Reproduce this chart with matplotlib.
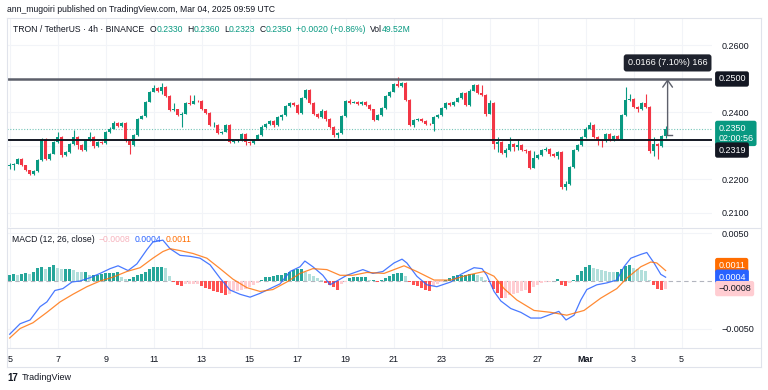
"""
TRON / TetherUS 4h candles with MACD panel, TradingView style snapshot.
"""

import numpy as np
import matplotlib
matplotlib.use("Agg")
import matplotlib.pyplot as plt
from matplotlib.lines import Line2D

plt.rcParams['font.family'] = ['Liberation Sans', 'DejaVu Sans']

# ==============================================================================
#  DATA (read off the snapshot, bar 0 = Feb 05 00:00 UTC, 4h bars)
# ==============================================================================
FIRST_OPEN = 0.2240
CLOSE = [
    0.2244, 0.2247, 0.2262, 0.2242, 0.2227, 0.2217, 0.2225, 0.2259, 0.2320, 0.2262,
    0.2277, 0.2312, 0.2327, 0.2272, 0.2282, 0.2307, 0.2327, 0.2302, 0.2287, 0.2319,
    0.2327, 0.2299, 0.2312, 0.2309, 0.2342, 0.2352, 0.2369, 0.2359, 0.2369, 0.2315,
    0.2302, 0.2332, 0.2382, 0.2389, 0.2432, 0.2462, 0.2472, 0.2465, 0.2477, 0.2449,
    0.2407, 0.2409, 0.2392, 0.2397, 0.2427, 0.2426, 0.2435, 0.2433, 0.2409, 0.2399,
    0.2362, 0.2364, 0.2339, 0.2343, 0.2364, 0.2312, 0.2316, 0.2318, 0.2337, 0.2312,
    0.2309, 0.2319, 0.2332, 0.2357, 0.2365, 0.2375, 0.2362, 0.2387, 0.2392, 0.2419,
    0.2427, 0.2422, 0.2399, 0.2442, 0.2467, 0.2429, 0.2395, 0.2387, 0.2405, 0.2382,
    0.2357, 0.2332, 0.2339, 0.2390, 0.2435, 0.2429, 0.2432, 0.2424, 0.2431, 0.2423,
    0.2409, 0.2379, 0.2392, 0.2412, 0.2449, 0.2462, 0.2485, 0.2479, 0.2487, 0.2437,
    0.2362, 0.2377, 0.2380, 0.2375, 0.2367, 0.2365, 0.2387, 0.2392, 0.2412, 0.2427,
    0.2422, 0.2432, 0.2442, 0.2459, 0.2422, 0.2465, 0.2482, 0.2457, 0.2452, 0.2397,
    0.2427, 0.2307, 0.2312, 0.2279, 0.2287, 0.2307, 0.2297, 0.2302, 0.2287, 0.2285,
    0.2235, 0.2265, 0.2272, 0.2287, 0.2292, 0.2275, 0.2269, 0.2282, 0.2177, 0.2187,
    0.2237, 0.2287, 0.2302, 0.2327, 0.2352, 0.2362, 0.2327, 0.2317, 0.2315, 0.2337,
    0.2319, 0.2329, 0.2322, 0.2392, 0.2437, 0.2441, 0.2417, 0.2409, 0.2429, 0.2415,
    0.2285, 0.2307, 0.2299, 0.2330, 0.2350,
]
HIGH = [
    0.2249, 0.2249, 0.2265, 0.2265, 0.2244, 0.2229, 0.2228, 0.2262, 0.2323, 0.2323,
    0.2280, 0.2315, 0.2342, 0.2330, 0.2285, 0.2310, 0.2347, 0.2329, 0.2305, 0.2322,
    0.2342, 0.2330, 0.2315, 0.2316, 0.2345, 0.2356, 0.2374, 0.2372, 0.2373, 0.2371,
    0.2317, 0.2335, 0.2385, 0.2393, 0.2435, 0.2465, 0.2482, 0.2476, 0.2489, 0.2480,
    0.2452, 0.2427, 0.2411, 0.2400, 0.2430, 0.2452, 0.2452, 0.2438, 0.2436, 0.2411,
    0.2401, 0.2372, 0.2366, 0.2346, 0.2367, 0.2366, 0.2319, 0.2321, 0.2340, 0.2339,
    0.2315, 0.2321, 0.2335, 0.2362, 0.2369, 0.2378, 0.2378, 0.2390, 0.2395, 0.2422,
    0.2430, 0.2432, 0.2425, 0.2445, 0.2470, 0.2470, 0.2431, 0.2398, 0.2409, 0.2408,
    0.2385, 0.2360, 0.2342, 0.2393, 0.2438, 0.2440, 0.2435, 0.2435, 0.2434, 0.2434,
    0.2426, 0.2411, 0.2395, 0.2415, 0.2452, 0.2465, 0.2488, 0.2507, 0.2491, 0.2490,
    0.2440, 0.2380, 0.2384, 0.2383, 0.2378, 0.2370, 0.2390, 0.2396, 0.2415, 0.2430,
    0.2430, 0.2435, 0.2445, 0.2462, 0.2462, 0.2470, 0.2485, 0.2484, 0.2482, 0.2455,
    0.2437, 0.2430, 0.2327, 0.2315, 0.2295, 0.2327, 0.2310, 0.2320, 0.2305, 0.2290,
    0.2288, 0.2285, 0.2275, 0.2290, 0.2296, 0.2295, 0.2278, 0.2286, 0.2285, 0.2195,
    0.2240, 0.2290, 0.2306, 0.2330, 0.2356, 0.2372, 0.2365, 0.2330, 0.2322, 0.2340,
    0.2340, 0.2332, 0.2332, 0.2395, 0.2475, 0.2455, 0.2444, 0.2420, 0.2432, 0.2455,
    0.2418, 0.2327, 0.2310, 0.2333, 0.2360,
]
LOW = [
    0.2232, 0.2227, 0.2245, 0.2240, 0.2225, 0.2213, 0.2212, 0.2222, 0.2256, 0.2258,
    0.2259, 0.2275, 0.2309, 0.2268, 0.2270, 0.2280, 0.2304, 0.2290, 0.2284, 0.2285,
    0.2316, 0.2295, 0.2297, 0.2305, 0.2307, 0.2340, 0.2350, 0.2356, 0.2357, 0.2312,
    0.2277, 0.2300, 0.2330, 0.2380, 0.2387, 0.2430, 0.2460, 0.2462, 0.2455, 0.2446,
    0.2403, 0.2405, 0.2389, 0.2357, 0.2395, 0.2423, 0.2424, 0.2430, 0.2406, 0.2396,
    0.2359, 0.2358, 0.2336, 0.2336, 0.2341, 0.2309, 0.2309, 0.2313, 0.2316, 0.2302,
    0.2302, 0.2306, 0.2317, 0.2330, 0.2355, 0.2362, 0.2358, 0.2360, 0.2378, 0.2390,
    0.2417, 0.2420, 0.2395, 0.2397, 0.2440, 0.2426, 0.2392, 0.2384, 0.2385, 0.2375,
    0.2353, 0.2327, 0.2325, 0.2337, 0.2388, 0.2426, 0.2427, 0.2421, 0.2421, 0.2420,
    0.2406, 0.2374, 0.2377, 0.2390, 0.2410, 0.2447, 0.2460, 0.2476, 0.2476, 0.2434,
    0.2359, 0.2358, 0.2374, 0.2372, 0.2364, 0.2362, 0.2345, 0.2383, 0.2390, 0.2410,
    0.2419, 0.2420, 0.2430, 0.2440, 0.2419, 0.2420, 0.2463, 0.2454, 0.2449, 0.2390,
    0.2395, 0.2292, 0.2282, 0.2276, 0.2267, 0.2285, 0.2285, 0.2287, 0.2284, 0.2280,
    0.2230, 0.2233, 0.2262, 0.2270, 0.2285, 0.2271, 0.2266, 0.2260, 0.2173, 0.2169,
    0.2185, 0.2235, 0.2285, 0.2300, 0.2325, 0.2350, 0.2324, 0.2302, 0.2297, 0.2313,
    0.2316, 0.2316, 0.2319, 0.2320, 0.2390, 0.2433, 0.2413, 0.2402, 0.2407, 0.2412,
    0.2280, 0.2269, 0.2262, 0.2297, 0.2323,
]

# MACD histogram, in units of 0.0001, one value per bar
HIST_E4 = [
    6, 7, 6, 7, 8, 7, 10, 14, 15, 13,
    15, 17, 14, 13, 13, 13, 12, 10, 9, 9,
    6, 6, 6, 7, 8, 8, 8, 9, 4, 2,
    2, 4, 6, 7, 10, 13, 15, 15, 15, 14,
    5, -1, -4, -5, -3, -3, -3, -3, -5, -7,
    -8, -10, -12, -13, -15, -14, -11, -10, -9, -8,
    -6, -4, -2, 1, 4, 4, 5, 6, 6, 8,
    10, 12, 13, 13, 10, 7, 5, 3, 1, -2,
    -4, -6, -9, -3, -1, 3, 4, 4, 4, 4,
    1, 1, -1, 1, 3, 5, 7, 8, 8, 5,
    -1, -4, -5, -7, -9, -10, -5, -3, -1, 1,
    3, 5, 6, 6, 6, 7, 7, 6, 4, 1,
    -1, -8, -13, -18, -18, -15, -14, -13, -11, -9,
    -13, -6, -4, -2, -1, -1, 0, 2, -4, -5,
    -2, 1, 6, 11, 15, 17, 14, 13, 12, 11,
    10, 9, 9, 13, 16, 17, 14, 13, 12, 11,
    1, -4, -8, -9, -8,
]

# MACD line and signal line, sampled along the bars
MACD_BAR = [0, 2.6, 5.1, 7.6, 9.3, 11.3, 13.3, 15.6, 17.6, 20.1,
            22.6, 25.1, 27.1, 29.6, 31.8, 34.3, 35.8, 38.3, 40.1, 42.6,
            45.1, 47.6, 50.1, 52.6, 55.1, 57.6, 60.1, 62.6, 65.1, 67.6,
            70.1, 72.6, 73.8, 75.8, 78.3, 80.1, 81.8, 84.3, 88.3, 90.8,
            93.3, 96.1, 98.1, 99.3, 101.8, 104.3, 106.8, 110.3, 112.8, 116.1,
            118.1, 119.3, 121.1, 122.8, 125.3, 127.8, 130.3, 132.8, 135.3, 137.3,
            139.1, 141.1, 142.8, 144.3, 146.8, 149.3, 151.8, 153.6, 155.3, 157.8,
            159.3, 161.1, 162.8, 164]
MACD_VAL = [-0.0056, -0.0045, -0.0041, -0.0027, -0.0022, -0.0010, -0.0008, -0.0001, 0.0000, 0.00035,
            0.0008, 0.0013, 0.0016, 0.0011, 0.0018, 0.0033, 0.0041, 0.0043, 0.0034, 0.0027,
            0.0026, 0.0024, 0.0017, 0.0003, -0.00095, -0.0014, -0.0017, -0.0013, -0.0008, -0.0003,
            0.0010, 0.0015, 0.0021, 0.0015, 0.0006, -0.0004, 0.0000, 0.0006, 0.0012, 0.0008,
            0.0010, 0.0019, 0.0023, 0.0019, 0.0005, -0.0004, -0.0006, -0.0001, 0.0007, 0.0014,
            0.0013, 0.0006, -0.0011, -0.0021, -0.0029, -0.0033, -0.0039, -0.0039, -0.0035, -0.0032,
            -0.0041, -0.0036, -0.0020, -0.0009, -0.0004, -0.0002, 0.0001, 0.0015, 0.0024, 0.0028,
            0.0030, 0.0019, 0.0007, 0.0004]
SIG_BAR = [0, 2.6, 5.8, 9.3, 12.6, 15.8, 19.3, 22.6, 25.8, 29.3,
           32.6, 35.8, 38.3, 40.1, 42.6, 45.8, 49.3, 52.6, 55.8, 59.3,
           62.6, 65.8, 69.3, 72.6, 75.8, 79.3, 82.6, 85.8, 89.3, 93.6,
           98.6, 101.8, 106.1, 110.3, 114.3, 118.6, 121.1, 123.6, 126.8, 131.1,
           135.3, 139.3, 143.6, 147.8, 151.8, 154.3, 157.8, 160.3, 161.8, 164]
SIG_VAL = [-0.0060, -0.0050, -0.0044, -0.0033, -0.0022, -0.0014, -0.0006, 0.0000, 0.0004, 0.0010,
           0.0014, 0.0024, 0.0031, 0.0034, 0.0032, 0.0029, 0.0024, 0.0013, 0.0002, -0.0007,
           -0.0011, -0.0009, -0.0001, 0.0008, 0.0013, 0.0012, 0.0006, 0.0006, 0.0009, 0.0008,
           0.0016, 0.0010, 0.0001, 0.0001, 0.0006, 0.0010, 0.0005, -0.0008, -0.0020, -0.0031,
           -0.0033, -0.0036, -0.0031, -0.0018, -0.0008, 0.0003, 0.0015, 0.0020, 0.0019, 0.0011]

# x axis: one label every 2 days (12 bars)
DATE_BAR = [0, 12, 24, 36, 48, 60, 72, 84, 96, 108, 120, 132, 144, 156, 168]
DATE_LABELS = ['5', '7', '9', '11', '13', '15', '17', '19', '21', '23', '25', '27', 'Mar', '3', '5']

PRICE_TICKS = [0.21, 0.22, 0.23, 0.24, 0.25, 0.26]
PRICE_SHOWN = ['0.2100', '0.2200', '', '0.2400', '', '0.2600']
MACD_TICKS = [-0.005, 0.005]
MACD_SHOWN = ['\u22120.0050', '0.0050']

RESISTANCE = 0.2500
SUPPORT = 0.2319
LAST_PRICE = 0.2350
MEASURE_FROM = 0.2334
MEASURE_BAR = 164.5
MEASURE_LABEL = '0.0166 (7.10%) 166'
HEADER = [('O', '0.2330'), ('H', '0.2360'), ('L', '0.2323'), ('C', '0.2350')]

# ==============================================================================
#  STYLE
# ==============================================================================
W, H = 768, 390
UP, DOWN = '#089981', '#f23645'
TXT = '#131722'
GRID = '#f2f4f8'
FRAME = '#e0e3eb'
TOOL = '#5d606b'
HIST_COLORS = ('#26a69a', '#b2dfdb', '#ffcdd2', '#ff5252')
FS = 6.5
FS_HEAD = 6.2


def fx(px):
    return px / W


def fy(py):
    return 1 - py / H


def chain_text(ax, x, y, pieces, size):
    # place text pieces one after another on a line (figure pixel coords)
    prev = ax.figure.text(fx(x), fy(y), pieces[0][0], color=pieces[0][1],
                          fontsize=size, ha='left', va='center')
    for s, color, gap in pieces[1:]:
        prev = ax.annotate(s, xy=(1, 0), xycoords=prev, xytext=(gap, 0),
                           textcoords='offset points', ha='left', va='bottom',
                           color=color, fontsize=size, annotation_clip=False)


def axis_tag(ax, value, text, fc, tc, dy=0, pad=0.35):
    ax.annotate(text, xy=(1, value), xycoords=('axes fraction', 'data'),
                xytext=(4.5, dy), textcoords='offset points', ha='left', va='center',
                fontsize=FS, color=tc, linespacing=1.15, annotation_clip=False,
                bbox=dict(boxstyle=f'round,pad={pad},rounding_size=0.25', fc=fc, ec='none'))


def main():
    close = np.array(CLOSE)
    high = np.array(HIGH)
    low = np.array(LOW)
    opens = np.r_[FIRST_OPEN, close[:-1]]
    bars = np.arange(len(close))
    hist = np.array(HIST_E4) * 1e-4

    fig = plt.figure(figsize=(W / 100, H / 100), dpi=100)

    # price pane: px 6.5..712 horizontally, 18..227 vertically
    ax1 = fig.add_axes([fx(6.5), fy(227), fx(705.5), 209 / H])
    ax2 = fig.add_axes([fx(6.5), fy(348), fx(705.5), 120 / H], sharex=ax1)

    # ---- candles ----
    col = np.where(close >= opens, UP, DOWN)
    ax1.vlines(bars, low, high, colors=col, lw=0.8, zorder=3)
    body = np.maximum(np.abs(close - opens), 0.00012)
    ax1.bar(bars, body, bottom=np.minimum(opens, close), width=0.72,
            color=col, lw=0, zorder=4)

    # ---- horizontal levels ----
    ax1.axhline(RESISTANCE, xmin=0.002, color=TOOL, lw=1.8, zorder=5)
    ax1.axhline(SUPPORT, xmin=0.002, color=TXT, lw=1.4, zorder=5)
    ax1.axhline(LAST_PRICE, color=UP, lw=0.8, ls=(0, (1, 1.5)), alpha=0.55, zorder=2)

    # ---- measure tool ----
    ax1.annotate('', xy=(MEASURE_BAR, RESISTANCE), xytext=(MEASURE_BAR, MEASURE_FROM),
                 arrowprops=dict(arrowstyle='->,head_length=0.5,head_width=0.35',
                                 color=TOOL, lw=1.0, shrinkA=0, shrinkB=0), zorder=6)
    ax1.plot([MEASURE_BAR - 0.4, MEASURE_BAR + 1.2], [MEASURE_FROM, MEASURE_FROM],
             color=TOOL, lw=1.0, zorder=6)
    ax1.text(MEASURE_BAR, RESISTANCE + 0.0048, MEASURE_LABEL,
             ha='center', va='center', color='white', fontsize=FS, zorder=7,
             bbox=dict(boxstyle='round,pad=0.45,rounding_size=0.3', fc='#1e222d', ec='none'))

    ax1.set_ylim(0.25 - 148 / 3350, 0.25 + 61 / 3350)
    ax1.set_xlim(-0.8, 175.6)
    ax1.set_yticks(PRICE_TICKS)
    ax1.set_yticklabels(PRICE_SHOWN)

    # ---- MACD ----
    prev = np.r_[hist[0], hist[:-1]]
    hcol = np.where(hist >= 0,
                    np.where(hist >= prev, HIST_COLORS[0], HIST_COLORS[1]),
                    np.where(hist < prev, HIST_COLORS[3], HIST_COLORS[2]))
    ax2.bar(bars, hist, width=0.75, color=hcol, lw=0, zorder=3)
    ax2.axhline(0, color='#b2b5be', lw=0.8, ls=(0, (4, 3)), zorder=2)
    ax2.plot(MACD_BAR, MACD_VAL, color='#2962ff', lw=0.9, zorder=4, alpha=0.85)
    ax2.plot(SIG_BAR, SIG_VAL, color='#ff6d00', lw=0.9, zorder=4, alpha=0.8)
    ax2.set_ylim(-(348 - 281) / 9500, (281 - 228) / 9500)
    ax2.set_yticks(MACD_TICKS)
    ax2.set_yticklabels(MACD_SHOWN)

    for ax in (ax1, ax2):
        for sp in ax.spines.values():
            sp.set_visible(False)
        ax.yaxis.tick_right()
        ax.tick_params(axis='y', length=0, pad=7, labelsize=FS, labelcolor=TXT)
        ax.grid(True, color=GRID, lw=0.8, zorder=0)
        ax.set_axisbelow(True)
        ax.set_facecolor('white')

    ax2.set_xticks(DATE_BAR)
    ax2.set_xticklabels(DATE_LABELS)
    ax2.tick_params(axis='x', length=0, pad=5, labelsize=FS, labelcolor=TXT)
    ax1.tick_params(axis='x', length=0, labelbottom=False)
    for lab in ax2.get_xticklabels():
        if lab.get_text() == 'Mar':
            lab.set_fontweight('bold')

    # ---- right-axis tags ----
    axis_tag(ax1, RESISTANCE, f'{RESISTANCE:.4f}', TXT, 'white')
    axis_tag(ax1, LAST_PRICE, f'{LAST_PRICE:.4f}\n02:00:56', UP, 'white', dy=-3.0)
    axis_tag(ax1, SUPPORT, f'{SUPPORT:.4f}', TXT, 'white', dy=-7.5)
    axis_tag(ax2, SIG_VAL[-1], f'{SIG_VAL[-1]:.4f}', '#ff6d00', 'white', dy=3.6)
    axis_tag(ax2, MACD_VAL[-1], f'{MACD_VAL[-1]:.4f}', '#2962ff', 'white')
    axis_tag(ax2, hist[-1], f'\u2212{abs(hist[-1]):.4f}', '#ffcdd2', TXT)

    # ---- frame ----
    for (x0, y0, x1, y1) in [(6.5, 17.5, 761, 17.5), (6.5, 367, 761, 367), (6.5, 17.5, 6.5, 367),
                             (761, 17.5, 761, 367), (6.5, 227.5, 761, 227.5), (6.5, 348, 761, 348)]:
        fig.add_artist(Line2D([fx(x0), fx(x1)], [fy(y0), fy(y1)], color=FRAME, lw=0.8))

    # ---- texts ----
    fig.text(fx(7), fy(10), 'ann_mugoiri published on TradingView.com, Mar 04, 2025 09:59 UTC',
             fontsize=FS_HEAD, color=TXT, va='center')
    pieces = [('TRON / TetherUS \u00b7 4h \u00b7 BINANCE', TXT, 0)]
    for k, (lab, val) in enumerate(HEADER):
        pieces += [(lab, TXT, 4 if k == 0 else 3), (val, UP, 0)]
    pieces += [('+0.0020 (+0.86%)', UP, 3), ('Vol', TXT, 3), ('49.52M', UP, 0)]
    chain_text(ax1, 13, 29, pieces, FS_HEAD)
    chain_text(ax2, 12, 239, [
        ('MACD (12, 26, close)', TXT, 0),
        ('\u22120.0008', '#f7b3bd', 3),
        ('0.0004', '#2962ff', 3),
        ('0.0011', '#ff6d00', 3),
    ], FS_HEAD)
    fig.text(fx(7), fy(378), '17', fontsize=7, fontweight='heavy', color=TXT, va='center')
    fig.text(fx(22), fy(378), 'TradingView', fontsize=FS, color=TXT, va='center')

    fig.savefig('out.png', dpi=100)


if __name__ == "__main__":
    main()
